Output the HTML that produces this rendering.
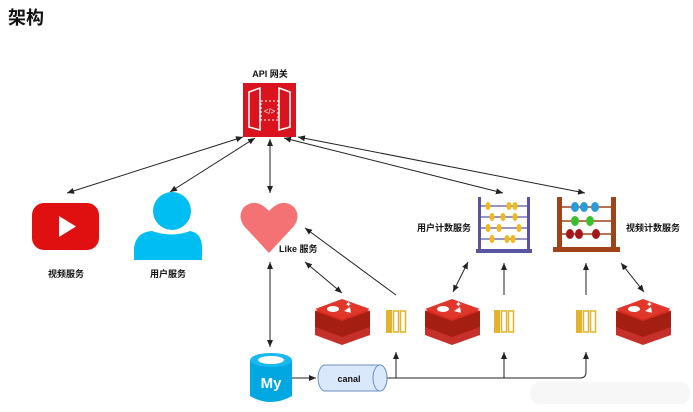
<!DOCTYPE html>
<html><head><meta charset="utf-8"><style>
body{margin:0;background:#fff;width:693px;height:407px;overflow:hidden}
text{font-family:"Liberation Sans","Noto Sans CJK SC",sans-serif}
</style></head><body>
<svg width="693" height="407" viewBox="0 0 693 407" xmlns="http://www.w3.org/2000/svg">
<defs>
<marker id="a" markerWidth="8" markerHeight="8" refX="7" refY="4" orient="auto-start-reverse" markerUnits="userSpaceOnUse"><path d="M0,1 L7,4 L0,7 z" fill="#222"/></marker>
<g id="redis">
<path d="M0,30 L27,20 L55,30 L55,38 L27,48 L0,38z" fill="#c6302b"/>
<path d="M0,22 L27,12 L55,22 L55,30 L27,40 L0,30z" fill="#d82c20"/>
<path d="M0,22 L27,32 L55,22 L55,30 L27,40 L0,30z" fill="#a41e11"/>
<path d="M0,14 L27,4 L55,14 L55,22 L27,32 L0,22z" fill="#d82c20"/>
<path d="M0,14 L27,24 L55,14 L55,22 L27,32 L0,22z" fill="#a41e11"/>
<path d="M0,12 L27,2 L55,12 L27,22z" fill="#e0372a"/>
<ellipse cx="18" cy="12" rx="6" ry="3" fill="#fff"/><path d="M29,14 L35,10 L36,16z" fill="#fff"/><text x="30" y="10" font-size="8" fill="#fff">✦</text>
</g>
<g id="q"><rect x="0" y="0" width="6" height="23" fill="#e4b32d"/><rect x="7.5" y="1" width="5" height="21" fill="#fff" stroke="#e4b32d" stroke-width="1.5"/><rect x="14.5" y="1" width="5" height="21" fill="#fff" stroke="#e4b32d" stroke-width="1.5"/></g>
</defs>
<text x="8" y="24" font-size="18" font-weight="bold" fill="#111">架构</text>
<text x="270" y="77" font-size="9" font-weight="bold" text-anchor="middle" fill="#111">API 网关</text>
<rect x="243" y="83" width="53" height="54" fill="#d9141e"/>
<path d="M249,92 L260,88 L260,130 L249,127z M290,92 L279,88 L279,130 L290,127z" fill="none" stroke="#fff" stroke-width="1.5"/>
<rect x="261" y="101" width="17" height="19" fill="none" stroke="#fff" stroke-dasharray="2,2"/>
<text x="269.5" y="114" font-size="8" fill="#fff" text-anchor="middle">&lt;/&gt;</text>
<g stroke="#222" stroke-width="1" fill="none">
<line x1="243" y1="137" x2="67" y2="193" marker-start="url(#a)" marker-end="url(#a)"/>
<line x1="255" y1="138" x2="170" y2="192" marker-start="url(#a)" marker-end="url(#a)"/>
<line x1="270" y1="139" x2="270" y2="193" marker-start="url(#a)" marker-end="url(#a)"/>
<line x1="284" y1="138" x2="503" y2="193" marker-start="url(#a)" marker-end="url(#a)"/>
<line x1="298" y1="137" x2="585" y2="193" marker-start="url(#a)" marker-end="url(#a)"/>
<line x1="270" y1="262" x2="270" y2="347" marker-start="url(#a)" marker-end="url(#a)"/>
<line x1="396" y1="295" x2="305" y2="228" marker-end="url(#a)"/>
<line x1="305" y1="262" x2="342" y2="293" marker-start="url(#a)" marker-end="url(#a)"/>
<line x1="468" y1="262" x2="453" y2="292" marker-start="url(#a)" marker-end="url(#a)"/>
<line x1="504" y1="295" x2="504" y2="263" marker-end="url(#a)"/>
<line x1="586" y1="295" x2="586" y2="263" marker-end="url(#a)"/>
<line x1="621" y1="263" x2="644" y2="292" marker-start="url(#a)" marker-end="url(#a)"/>
<line x1="292" y1="378" x2="316" y2="378" marker-end="url(#a)"/>
<path d="M387,378 L580,378 Q586,378 586,372 L586,352" marker-end="url(#a)"/>
<line x1="396" y1="378" x2="396" y2="352" marker-end="url(#a)"/>
<line x1="504" y1="378" x2="504" y2="352" marker-end="url(#a)"/>
</g>
<rect x="32" y="203" width="67" height="47" rx="12" fill="#e01010"/>
<path d="M59,216 L59,237 L76,226.5z" fill="#fff"/>
<text x="66" y="277" font-size="9" font-weight="bold" text-anchor="middle" fill="#111">视频服务</text>
<circle cx="172" cy="211" r="19" fill="#00bdf2"/>
<path d="M134,260 L134,248 Q136,232 152,231 Q172,238 190,231 Q202,233 202,248 L202,260z" fill="#00bdf2"/>
<text x="168" y="277" font-size="9" font-weight="bold" text-anchor="middle" fill="#111">用户服务</text>
<path d="M269,253 L244,226 Q237,216 244,207 Q256,197 269,211 Q282,197 294,207 Q301,216 294,226z" fill="#f47174"/>
<text x="279" y="252" font-size="9" font-weight="bold" fill="#111">Like 服务</text>
<g transform="translate(476,197)">
<rect x="2" y="0" width="3" height="55" fill="#5a54a0"/><rect x="51" y="0" width="3" height="55" fill="#5a54a0"/><rect x="0" y="52" width="56" height="4" fill="#5a54a0"/>
<g stroke="#5a54a0" stroke-width="1.2"><line x1="5" y1="9" x2="51" y2="9"/><line x1="5" y1="20" x2="51" y2="20"/><line x1="5" y1="31" x2="51" y2="31"/><line x1="5" y1="42" x2="51" y2="42"/></g>
<g fill="#f2b91d"><ellipse cx="12" cy="9" rx="2.5" ry="4"/><ellipse cx="33" cy="9" rx="2.5" ry="4"/><ellipse cx="39" cy="9" rx="2.5" ry="4"/><ellipse cx="16" cy="20" rx="2.5" ry="4"/><ellipse cx="27" cy="20" rx="2.5" ry="4"/><ellipse cx="39" cy="20" rx="2.5" ry="4"/><ellipse cx="12" cy="31" rx="2.5" ry="4"/><ellipse cx="23" cy="31" rx="2.5" ry="4"/><ellipse cx="43" cy="31" rx="2.5" ry="4"/><ellipse cx="16" cy="42" rx="2.5" ry="4"/><ellipse cx="31" cy="42" rx="2.5" ry="4"/><ellipse cx="37" cy="42" rx="2.5" ry="4"/></g>
</g>
<text x="444" y="231" font-size="9" font-weight="bold" text-anchor="middle" fill="#111">用户计数服务</text>
<g transform="translate(553,197)">
<rect x="4" y="0" width="5" height="53" fill="#a0421a"/><rect x="58" y="0" width="5" height="53" fill="#a0421a"/><rect x="0" y="50" width="67" height="5" fill="#a0421a"/>
<g stroke="#a0421a" stroke-width="1.5"><line x1="9" y1="10" x2="58" y2="10"/><line x1="9" y1="24" x2="58" y2="24"/><line x1="9" y1="37" x2="58" y2="37"/></g>
<g fill="#2b9ad6"><ellipse cx="22" cy="10" rx="4" ry="5"/><ellipse cx="31" cy="10" rx="4" ry="5"/><ellipse cx="42" cy="10" rx="4" ry="5"/></g>
<g fill="#3bbf2a"><ellipse cx="22" cy="24" rx="4" ry="5"/><ellipse cx="37" cy="24" rx="4" ry="5"/></g>
<g fill="#a4161a"><ellipse cx="17" cy="37" rx="4" ry="5"/><ellipse cx="26" cy="37" rx="4" ry="5"/><ellipse cx="43" cy="37" rx="4" ry="5"/></g>
</g>
<text x="653" y="231" font-size="9" font-weight="bold" text-anchor="middle" fill="#111">视频计数服务</text>
<use href="#redis" x="315" y="297"/>
<use href="#redis" x="425" y="297"/>
<use href="#redis" x="616" y="297"/>
<use href="#q" x="386" y="310"/>
<use href="#q" x="494" y="310"/>
<use href="#q" x="576" y="310"/>
<path d="M250,360 L250,396 Q271,408 292,396 L292,360z" fill="#00a7e1"/>
<ellipse cx="271" cy="360" rx="21" ry="7" fill="#1ab8ee"/>
<ellipse cx="271" cy="360" rx="13" ry="4" fill="#fff"/>
<text x="271" y="388" font-size="15" font-weight="bold" fill="#fff" text-anchor="middle">My</text>
<path d="M325,365 L380,365 A7,13 0 0 1 380,391 L325,391 A7,13 0 0 1 325,365z" fill="#dae8fc" stroke="#6c8ebf"/>
<ellipse cx="380" cy="378" rx="7" ry="13" fill="#dae8fc" stroke="#6c8ebf"/>
<text x="349" y="382" font-size="9" font-weight="bold" text-anchor="middle" fill="#111">canal</text>
<rect x="530" y="382" width="160" height="22" rx="10" fill="#f4f4f4" opacity="0.7"/>
</svg>
</body></html>
